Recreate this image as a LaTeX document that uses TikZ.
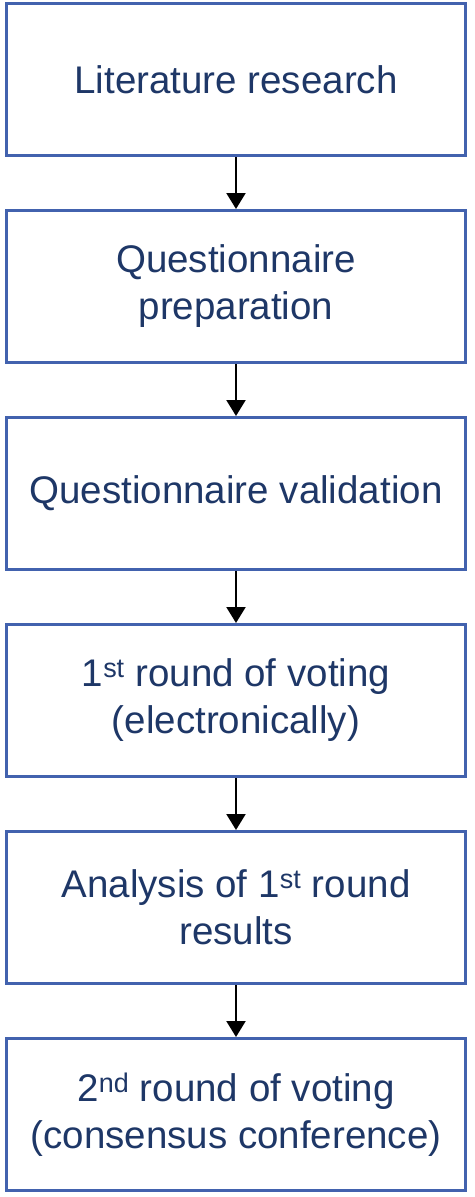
\documentclass[tikz,border=0pt]{standalone}
\usepackage{fontspec}
\setmainfont{Liberation Sans}
\usetikzlibrary{arrows.meta}
\definecolor{boxblue}{HTML}{4262AE}
\definecolor{txtblue}{HTML}{1E3767}
\tikzset{
  stepbox/.style={draw=boxblue, line width=3pt, fill=white, minimum width=459pt, minimum height=152pt,
    align=center, text=txtblue, font=\fontsize{38.5}{47}\selectfont, inner sep=0pt},
  flowarrow/.style={draw=black, line width=2.2pt, -{Triangle[width=19pt,length=16pt]}}
}
\begin{document}
\begin{tikzpicture}[x=1pt,y=1pt]
\useasboundingbox (0,0) rectangle (474,-1197);
\node[stepbox] (b1) at (236,-79.5) {Literature research};
\node[stepbox] (b2) at (236,-286.5) {Questionnaire\\preparation};
\node[stepbox] (b3) at (236,-493.5) {Questionnaire validation};
\node[stepbox] (b4) at (236,-700.5) {1\textsuperscript{st} round of voting\\(electronically)};
\node[stepbox] (b5) at (236,-907.5) {Analysis of 1\textsuperscript{st} round\\results};
\node[stepbox] (b6) at (236,-1114.5) {2\textsuperscript{nd} round of voting\\(consensus conference)};
\foreach \a/\b in {b1/b2,b2/b3,b3/b4,b4/b5,b5/b6}
  \draw[flowarrow] (\a.south) -- (\b.north);
\end{tikzpicture}
\end{document}
